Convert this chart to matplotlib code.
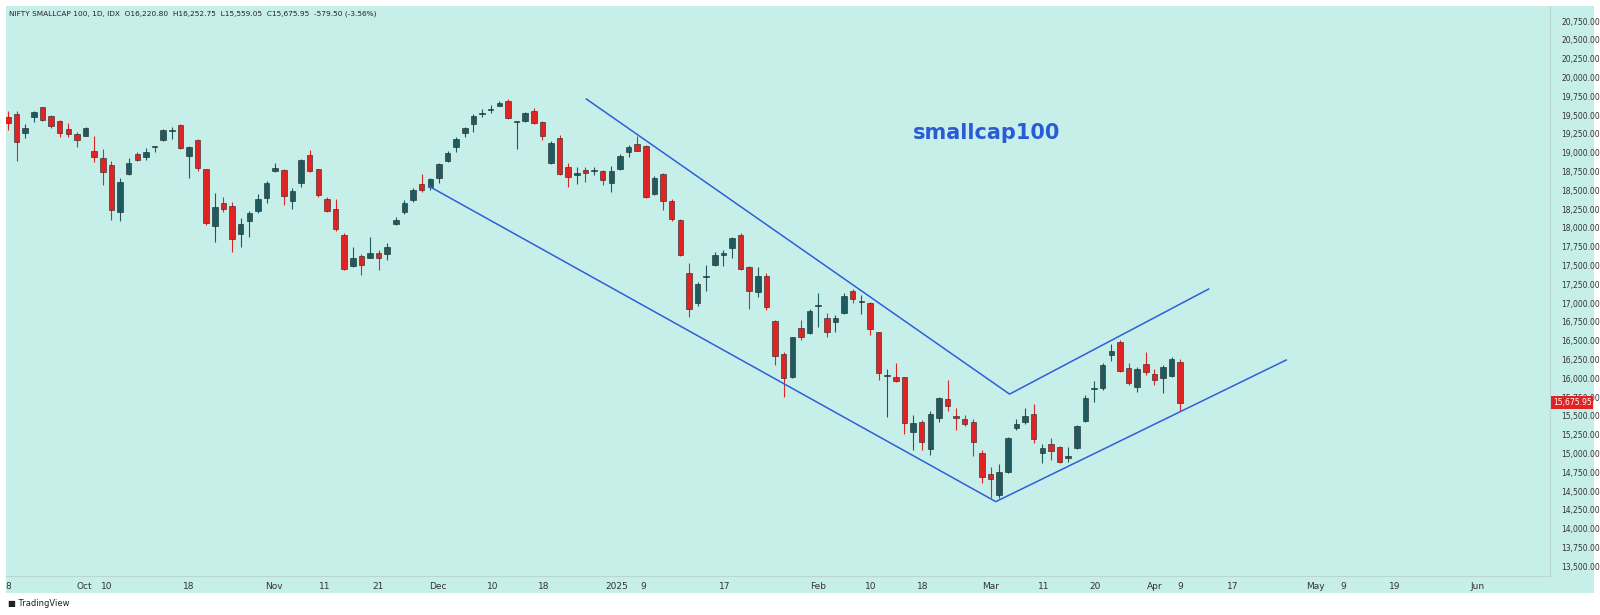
import matplotlib
matplotlib.use("Agg")
import matplotlib.pyplot as plt
from matplotlib.patches import Rectangle

opens = [19476,19516,19263,19476,19609,19489,19423,19316,19250,19223,19024,18931,18837,18212,18718,18984,18944,19077,19170,19290,
         19370,18957,19170,18784,18026,18332,18292,17920,18093,18226,18399,18758,18771,18359,18598,18971,18784,18385,18252,17907,
         17494,17627,17600,17667,17654,18053,18212,18372,18585,18545,18665,18891,19077,19263,19383,19516,19569,19622,19689,19409,
         19423,19556,19409,18864,19197,18811,18704,18771,18758,18758,18598,18784,19010,19117,19090,18452,18718,18359,18106,17401,
         17002,17348,17507,17640,17733,17907,17481,17148,17361,16763,16324,16018,16670,16603,16962,16803,16750,16869,17162,17015,
         17002,16616,16031,16018,16018,15286,15420,15060,15473,15725,15499,15459,15420,15007,14728,14449,14755,15339,15419,15526,
         15007,15127,15087,14941,15074,15433,15858,15871,16310,16483,16137,15885,16191,16058,16005,16031,16220.80]
highs = [19556,19556,19383,19556,19609,19503,19436,19396,19276,19343,19223,19050,18891,18665,18931,19010,19064,19090,19316,19343,
         19383,19090,19183,18784,18465,18412,18346,18133,18226,18452,18625,18864,18784,18532,18917,19037,18784,18412,18385,17933,
         17747,17654,17880,17707,17800,18146,18372,18532,18718,18665,18864,19024,19210,19343,19516,19582,19636,19689,19715,19423,
         19542,19596,19423,19157,19237,18864,18811,18811,18811,18771,18824,18984,19103,19223,19103,18691,18731,18385,18119,17534,
         17281,17508,17680,17707,17880,17933,17494,17481,17401,16776,16350,16550,16776,16922,17135,16869,16842,17135,17188,17108,
         17015,16616,16124,16204,16018,15513,15446,15566,15752,15978,15606,15513,15459,15047,14821,14861,15220,15459,15606,15659,
         15127,15207,15100,15087,15379,15779,15965,16204,16457,16510,16204,16151,16350,16124,16177,16284,16252.75]
lows = [19303,18891,19197,19409,19423,19330,19210,19210,19077,19223,18877,18572,18106,18093,18704,18891,18904,19010,19157,19183,
        19050,18665,18758,18040,17813,18212,17680,17747,17880,18199,18332,18744,18306,18252,18545,18744,18412,18212,17960,17441,
        17481,17374,17600,17441,17574,18040,18186,18346,18478,18505,18598,18877,19010,19210,19276,19476,19529,19622,19449,19050,
        19409,19383,19170,18851,18704,18545,18585,18611,18704,18572,18479,18771,18944,19024,18399,18439,18239,18093,17627,16816,
        16962,17162,17494,17494,17600,17441,16922,17082,16909,16177,15752,16005,16510,16590,16683,16550,16616,16856,17002,16856,
        16577,15978,15486,15951,15260,15047,15047,14981,15420,15566,15313,15366,14964,14608,14409,14409,14741,15313,15393,15140,
        14874,14914,14874,14887,15060,15420,15685,15845,16231,16084,15911,15819,16044,15911,15805,16018,15559.05]
closes = [19396,19143,19330,19542,19436,19356,19263,19250,19170,19330,18944,18744,18239,18611,18864,18904,19010,19090,19303,19303,
          19064,19077,18798,18066,18279,18252,17853,18053,18199,18385,18598,18798,18425,18492,18904,18758,18439,18226,17986,17454,
          17600,17507,17667,17600,17747,18106,18332,18505,18505,18651,18851,18997,19183,19330,19489,19529,19582,19662,19463,19423,
          19529,19396,19223,19130,18718,18678,18731,18731,18771,18638,18758,18957,19077,19024,18412,18665,18359,18119,17640,16922,
          17255,17348,17640,17667,17867,17454,17162,17361,16949,16297,16005,16550,16550,16896,16975,16616,16803,17095,17055,17015,
          16656,16071,16031,15965,15406,15406,15153,15526,15739,15632,15473,15393,15153,14688,14661,14755,15206,15393,15499,15193,
          15074,15034,14887,14967,15366,15739,15871,16177,16363,16098,15938,16124,16084,15978,16151,16257,15675.95]

x_tick_pos = [0, 8.9, 11.4, 21, 30.9, 36.8, 42.9, 49.9, 56.2, 62.1, 70.6, 73.7, 83.1, 94, 100.1, 106.1, 114, 120.2,
              126.1, 133.1, 136, 142.1, 151.7, 154.9, 160.9, 170.5]
x_tick_labels = ["8", "Oct", "10", "18", "Nov", "11", "21", "Dec", "10", "18", "2025", "9", "17", "Feb", "10", "18",
                 "Mar", "11", "20", "Apr", "9", "17", "May", "9", "19", "Jun"]
y_ticks = list(range(13500, 20751, 250))

upper_line_x = [67.1, 116.2, 139.3]
upper_line_y = [19715, 15790, 17188]
lower_line_x = [48.8, 114.6, 148.3]
lower_line_y = [18558, 14360, 16244]

BG = "#c7efea"
RED = "#e02424"
GREEN = "#1e5a5e"
BLUE = "#2f5fd6"

fig = plt.figure(figsize=(16, 6.15), dpi=100)
fig.patch.set_facecolor("white")
W, H = 1600, 615
bgax = fig.add_axes([6 / W, 1 - 593 / H, (1594 - 6) / W, (593 - 6) / H], zorder=-5)
bgax.set_facecolor(BG)
bgax.set_xticks([]); bgax.set_yticks([])
for s in bgax.spines.values():
    s.set_visible(False)

ax = fig.add_axes([6 / W, 1 - 576 / H, (1550 - 6) / W, (576 - 6) / H], zorder=1)
ax.set_facecolor("none")
ax.set_xlim(-0.23, 178.9)
ax.set_ylim(13371, 20952)

for i, (o, h, l, c) in enumerate(zip(opens, highs, lows, closes)):
    col = GREEN if c >= o else RED
    ax.vlines(i, l, h, color=col, linewidth=0.8, zorder=2)
    lo, hi = min(o, c), max(o, c)
    if hi - lo < 15:
        hi = lo + 15
    ax.add_patch(Rectangle((i - 0.32, lo), 0.64, hi - lo, facecolor=col, edgecolor="#222222",
                           linewidth=0.4, zorder=3))

ax.plot(upper_line_x, upper_line_y, color=BLUE, linewidth=1.1, zorder=4)
ax.plot(lower_line_x, lower_line_y, color=BLUE, linewidth=1.1, zorder=4)

ax.text(113.5, 19260, "smallcap100", color="#2a5bd7", fontsize=15, fontweight="bold", ha="center", va="center")

ax.set_xticks(x_tick_pos)
ax.set_xticklabels(x_tick_labels)
ax.tick_params(axis="x", length=0, labelsize=6.5, colors="#333333", pad=4)
ax.yaxis.tick_right()
ax.set_yticks(y_ticks)
ax.set_yticklabels([f"{v:,.2f}" for v in y_ticks])
ax.tick_params(axis="y", length=0, labelsize=5.5, colors="#333333", pad=8)
for s in ["top", "left"]:
    ax.spines[s].set_visible(False)
ax.spines["right"].set_color("#b9d6d2")
ax.spines["bottom"].set_color("#b9d6d2")

last = closes[-1]
ax.annotate(f"{last:,.2f}", xy=(1.0, last), xycoords=("axes fraction", "data"),
            xytext=(2, 0), textcoords="offset points", ha="left", va="center", fontsize=5.5,
            color="white", bbox=dict(boxstyle="square,pad=0.25", facecolor=RED, edgecolor="none"), zorder=10,
            annotation_clip=False)

fig.text(9 / W, 1 - 14 / H, "NIFTY SMALLCAP 100, 1D, IDX  O16,220.80  H16,252.75  L15,559.05  C15,675.95  -579.50 (-3.56%)",
         fontsize=5.3, color="#222222", va="center")
fig.text(8 / W, 1 - 603 / H, "\u25A0 TradingView", fontsize=6, color="#222222", va="center")

fig.savefig("out.png", dpi=100, facecolor="white")
